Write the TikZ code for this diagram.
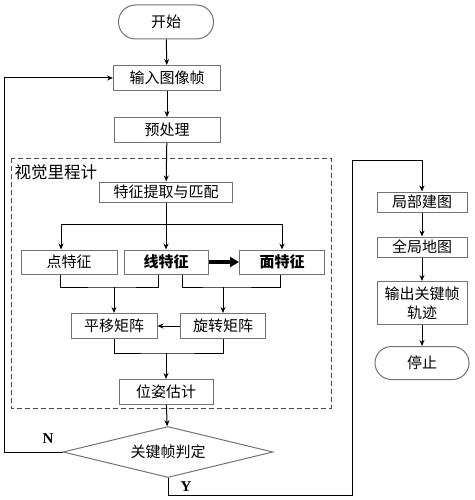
\documentclass[tikz,border=0pt]{standalone}
\usepackage{fontspec}
\setmainfont{Noto Sans CJK SC}
\newfontfamily\latinserif{Liberation Serif}
\usetikzlibrary{arrows.meta}
\usetikzlibrary{shapes.geometric}
\usetikzlibrary{shapes.misc}
\tikzstyle{step box}=[draw=black!55, fill=white, inner sep=0pt, minimum height=25pt, font=\fontsize{15}{17}\selectfont]
\tikzstyle{terminal}=[step box, rounded rectangle, minimum height=34pt]
\tikzstyle{decide}=[step box, diamond, aspect=4.1, minimum width=210pt, minimum height=51pt]
\tikzstyle{arr}=[-{Stealth[length=6pt,width=5pt]}]
\tikzstyle{bigarr}=[line width=3.5pt, -{Triangle[length=9pt,width=10pt]}]
\tikzstyle{yn}=[font=\latinserif\bfseries\fontsize{15}{17}\selectfont]

\begin{document}
\begin{tikzpicture}[x=1pt, y=-1pt, line width=1pt]
        \useasboundingbox (0,0) rectangle (474,500);
        % main chain
        \node[terminal, minimum width=95pt] (start) at (166, 22) {开始};
        \node[step box, minimum width=107pt] (input) at (167, 78) {输入图像帧};
        \node[step box, minimum width=106pt] (pre) at (167, 130) {预处理};
        % visual odometry block
        \draw[black!70, dashed, dash pattern=on 5pt off 3pt] (11, 158) rectangle (331, 408);
        \node[anchor=west, inner sep=2pt, font=\fontsize{16.5}{18}\selectfont] (vo) at (12, 172) {视觉里程计};
        \node[step box, minimum width=133pt, minimum height=20pt] (feat) at (166, 192) {特征提取与匹配};
        \node[step box, minimum width=96pt, minimum height=24pt] (pt) at (69, 262) {点特征};
        \node[step box, minimum width=84pt, minimum height=24pt, font=\bfseries\fontsize{15}{17}\selectfont] (line) at (166, 262) {线特征};
        \node[step box, minimum width=85pt, minimum height=24pt, font=\bfseries\fontsize{15}{17}\selectfont] (plane) at (282, 262) {面特征};
        \node[step box, minimum width=86pt] (trans) at (114, 326) {平移矩阵};
        \node[step box, minimum width=85pt] (rot) at (223, 326) {旋转矩阵};
        \node[step box, minimum width=94pt] (pose) at (166, 392) {位姿估计};
        \node[decide] (key) at (168, 452) {关键帧判定};
        % mapping chain
        \node[step box, minimum width=90pt, minimum height=20pt] (local) at (422, 202) {局部建图};
        \node[step box, minimum width=90pt, minimum height=20pt] (global) at (422, 247) {全局地图};
        \node[step box, minimum width=90pt, minimum height=43pt, align=center, font=\fontsize{15}{19}\selectfont] (out) at (422, 303) {输出关键帧\\轨迹};
        \node[terminal, minimum width=94pt, minimum height=33pt] (stop) at (422, 363) {停止};
        \coordinate (fork) at (166, 224);
        \coordinate (j1) at (114, 287);
        \coordinate (j2) at (223, 287);
        \coordinate (j3) at (166, 353);
        \coordinate (nl) at (4, 452);
        \coordinate (y1) at (352, 495);
        \coordinate (y2) at (352, 160);
        \draw[arr] (start) -- (input);
        \draw[arr] (input) -- (pre);
        \draw[arr] (pre) -- (feat);
        \draw (feat.south) -- (fork);
        \draw[arr] (fork) -| ([xshift=-8pt]pt.north);
        \draw[arr] (fork) -- (line.north);
        \draw[arr] (fork) -| (plane.north);
        \draw[bigarr] (line) -- (plane);
        \draw ([xshift=-9pt]pt.south) |- (j1) -| ([xshift=-8pt]line.south);
        \draw ([xshift=16pt]line.south) |- (j2) -| ([xshift=-2pt]plane.south);
        \draw[arr] (j1) -- (trans);
        \draw[arr] (j2) -- (rot);
        \draw[arr] (rot) -- (trans);
        \draw (trans.south) |- (j3) -| (rot.south);
        \draw[arr] (j3) -- (pose);
        \draw[arr] (pose) -- (key);
        \draw[arr] (key.west) -- (nl) |- (input.west);
        \draw[arr] (key.south) |- (y1) -- (y2) -| (local.north);
        \draw[arr] (local) -- (global);
        \draw[arr] (global) -- (out);
        \draw[arr] (out) -- (stop);
        \node[yn] (n) at (48, 439) {N};
        \node[yn] (y) at (186, 487) {Y};
    \end{tikzpicture}
\end{document}
